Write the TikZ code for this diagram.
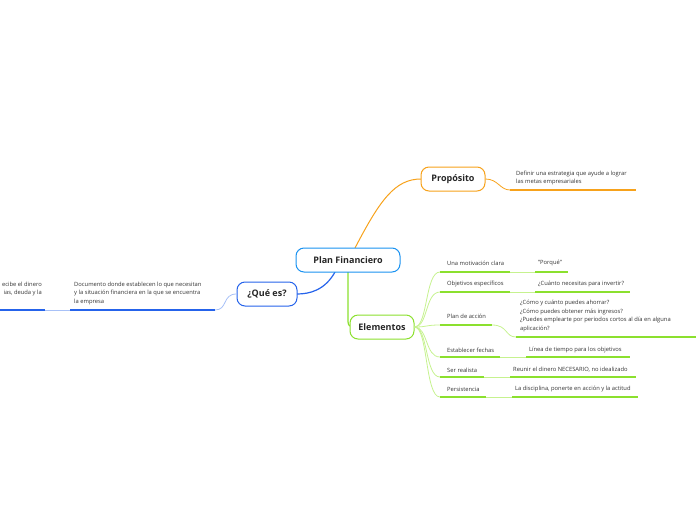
\documentclass[tikz,border=0pt]{standalone}
\usepackage{fontspec}
\setmainfont{Open Sans}
\begin{document}
\begin{tikzpicture}[x=1pt,y=-1pt,
  box/.style={draw,line width=1pt,rounded corners=8pt,fill=white,font=\bfseries\fontsize{9}{11}\selectfont,text=black!85,inner sep=0pt},
  small/.style={font=\fontsize{5.8}{8.5}\selectfont,text=black!80,inner sep=0pt,anchor=west,align=left},
  ul/.style={line width=1.2pt},
  gr/.style={color=green!70!lime},
  lgr/.style={color=green!40!lime!50,line width=0.8pt}]
\useasboundingbox (0,0) rectangle (696,520);
\definecolor{og}{HTML}{F7A21B}
\definecolor{bl}{HTML}{2563EB}
\definecolor{gn}{HTML}{8BE02E}
\definecolor{lgn}{HTML}{C6F28F}
% connectors from root
\draw[og,line width=1pt] (355,248) .. controls (380,200) and (395,179) .. (421,179);
\draw[gn,line width=1.2pt] (348,272) -- (348,318) .. controls (348,325) .. (352,327);
\draw[bl,line width=1.2pt] (335,272) .. controls (325,290) and (310,294) .. (297,294);
% nodes
\node[box,draw=bl!70!cyan,minimum width=104pt,minimum height=24pt] (root) at (348,260) {Plan Financiero};
\node[box,draw=og,minimum width=64pt,minimum height=24pt] (prop) at (453,179) {Propósito};
\node[box,draw=gn,minimum width=64pt,minimum height=24pt] (elem) at (382,327) {Elementos};
\node[box,draw=bl,minimum width=60pt,minimum height=24pt] (que) at (267,294) {¿Qué es?};
% Propósito child
\node[small] (p1) at (516,178) {Definir una estrategia que ayude a lograr\\las metas empresariales};
\coordinate (p1a) at (510,190);
\draw[og,line width=0.8pt] (prop.east) .. controls (498,179) and (500,190) .. (p1a);
\draw[og,ul] (p1a) -- (636,190);
% Qué es child
\node[small] (q1) at (74,293) {Documento donde establecen lo que necesitan\\y la situación financiera en la que se encuentra\\ la empresa};
\coordinate (q1a) at (215,310);
\draw[bl!40,line width=0.8pt] (que.west) .. controls (222,294) and (228,310) .. (q1a);
\draw[bl,ul] (q1a) -- (70,310);
\node[small,anchor=east,align=right] (q2) at (42,289) {ecibe el dinero\\ias, deuda y la};
\draw[bl!40,line width=0.8pt] (70,310) -- (45,310);
\draw[bl,ul] (45,310) -- (0,310);
% Elementos children
\foreach \n/\ty/\uy/\ux/\lab/\bx/\bu/\ex/\ans in {
  a/263/272/510/{Una motivación clara}/540/272/568/{"Porqué"},
  b/284/292/510/{Objetivos específicos}/538/292/630/{¿Cuánto necesitas para invertir?},
  c/316/325/492/{Plan de acción}/520/337/696/{¿Cómo y cuánto puedes ahorrar?\\¿Cómo puedes obtener más ingresos?\\¿Puedes emplearte por periodos cortos al día en alguna\\aplicación?},
  d/350/357/500/{Establecer fechas}/529/357/630/{Línea de tiempo para los objetivos},
  e/370/377/484/{Ser realista}/512/377/636/{Reunir el dinero NECESARIO, no idealizado},
  f/389/397/486/{Persistencia}/514/397/638/{La disciplina, ponerte en acción y la actitud}} {
  \node[small] (l\n) at (447,\ty) {\lab};
  \coordinate (s\n) at (440,\uy);
  \coordinate (t\n) at (\ux,\uy);
  \draw[lgn,line width=0.8pt] (elem.east) .. controls (428,327) and (425,\uy) .. (s\n);
  \draw[gn,ul] (s\n) -- (t\n);
}
\foreach \n/\bx/\bu/\ex/\ans/\ay in {
  a/535/272/568/{"Porqué"}/263,
  b/535/292/630/{¿Cuánto necesitas para invertir?}/284,
  d/526/357/630/{Línea de tiempo para los objetivos}/350,
  e/510/377/636/{Reunir el dinero NECESARIO, no idealizado}/370,
  f/512/397/638/{La disciplina, ponerte en acción y la actitud}/389} {
  \node[small] (r\n) at (\bx+3,\ay) {\ans};
  \draw[lgn,line width=0.8pt] (t\n) -- (\bx,\bu);
  \draw[gn,ul] (\bx,\bu) -- (\ex,\bu);
}
\node[small] (rc) at (520,316) {¿Cómo y cuánto puedes ahorrar?\\¿Cómo puedes obtener más ingresos?\\¿Puedes emplearte por periodos cortos al día en alguna\\aplicación?};
\draw[lgn,line width=0.8pt] (tc) .. controls (508,325) and (505,337) .. (516,337);
\draw[gn,ul] (516,337) -- (696,337);
\end{tikzpicture}
\end{document}
